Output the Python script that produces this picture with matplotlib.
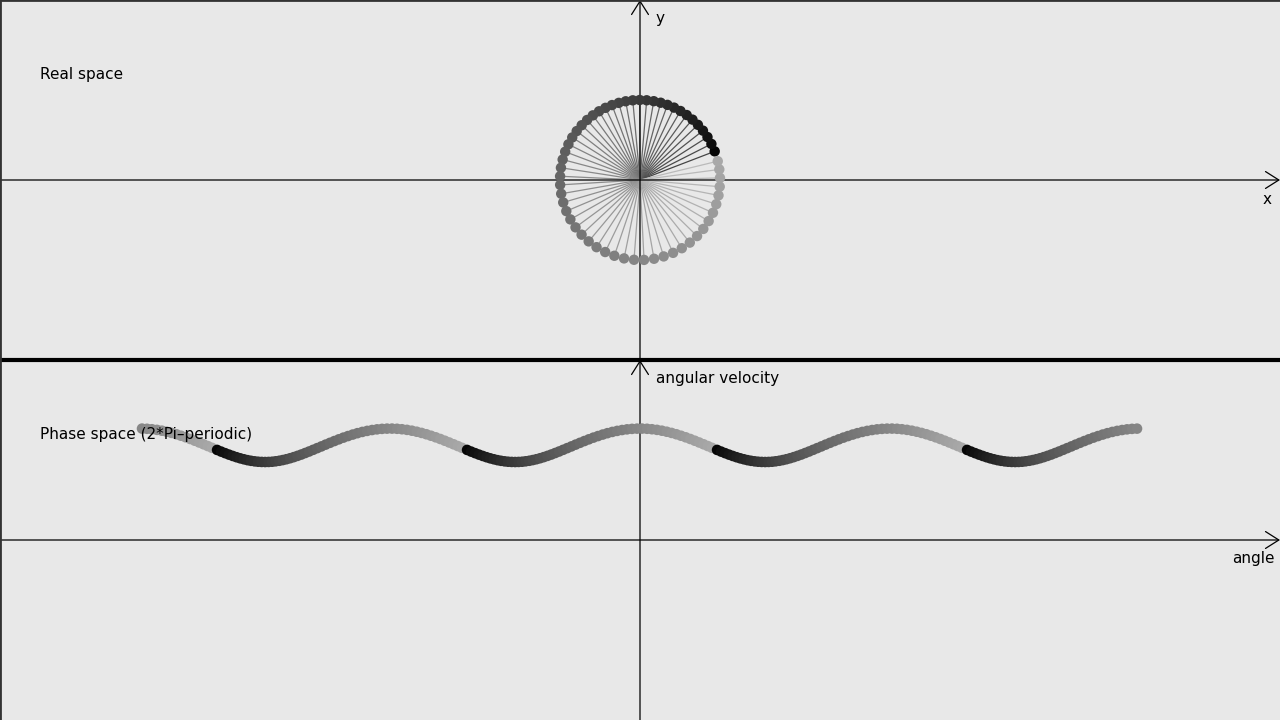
import numpy as np
import matplotlib.pyplot as plt
from matplotlib.colors import LinearSegmentedColormap, PowerNorm

# one full turn of the pendulum, sampled at equal time steps
# angle measured from the downward vertical, in degrees
angle_deg = [111.0, 116.8, 122.5, 128.1, 133.6, 139.0, 144.3, 149.6, 154.8, 159.9,
             165.0, 170.1, 175.2, 180.2, 185.2, 190.3, 195.4, 200.5, 205.6, 210.8,
             216.1, 221.4, 226.8, 232.3, 237.9, 243.5, 249.3, 255.2, 261.2, 267.3,
             273.5, 279.9, 286.3, 292.9, 299.5, 306.3, 313.1, 320.1, 327.1, 334.2,
             341.3, 348.5, 355.7, 362.9, 370.1, 377.2, 384.4, 391.5, 398.5, 405.5,
             412.3, 419.1, 425.8, 432.4, 438.9, 445.2, 451.5, 457.6, 463.6]
ang_vel = [2.264, 2.222, 2.183, 2.146, 2.112, 2.081, 2.053, 2.029, 2.007, 1.990,
           1.977, 1.967, 1.962, 1.960, 1.962, 1.967, 1.978, 1.991, 2.009, 2.030,
           2.055, 2.083, 2.114, 2.148, 2.186, 2.224, 2.266, 2.309, 2.352, 2.397,
           2.442, 2.487, 2.530, 2.573, 2.612, 2.650, 2.685, 2.716, 2.742, 2.764,
           2.781, 2.793, 2.799, 2.800, 2.795, 2.784, 2.768, 2.747, 2.721, 2.691,
           2.658, 2.620, 2.581, 2.539, 2.495, 2.451, 2.406, 2.361, 2.317]

bg = '#e8e8e8'

theta = np.radians(angle_deg)
omega = np.array(ang_vel)
px = np.sin(theta)
py = -np.cos(theta)

idx = np.arange(len(theta))
cmap = LinearSegmentedColormap.from_list('trail', ['#050505', '#a8a8a8'])
norm = PowerNorm(gamma=0.75, vmin=0, vmax=len(theta) - 1)
colors = cmap(norm(idx))
bg_rgb = np.array([232, 232, 232, 255]) / 255.0
spoke_colors = colors * 0.72 + bg_rgb * 0.28

fig = plt.figure(figsize=(12.8, 7.2), dpi=100, facecolor=bg)
ax_top = fig.add_axes([0, 0.5, 1, 0.5])
ax_bot = fig.add_axes([0, 0, 1, 0.5])
for ax in (ax_top, ax_bot):
    ax.set_facecolor(bg)
    ax.axis('off')

arrow = dict(arrowstyle='->,head_length=0.6,head_width=0.38', lw=0.9,
             color='black', mutation_scale=16, shrinkA=0, shrinkB=0)

# real space
ax_top.set_xlim(-8, 8)
ax_top.set_ylim(-2.25, 2.25)
ax_top.annotate('', xy=(8, 0), xytext=(-8, 0), arrowprops=arrow, annotation_clip=False)
ax_top.annotate('', xy=(0, 2.25), xytext=(0, -2.25), arrowprops=arrow, annotation_clip=False)
for i in idx:
    ax_top.plot([0, px[i]], [0, py[i]], color=spoke_colors[i], lw=0.9, zorder=2)
ax_top.scatter(px, py, c=colors, s=56, edgecolors='none', zorder=3)

# phase space, repeated every 2*pi
scale = 250 / (2 * np.pi)
xr = 640 / scale
yr = 180 / scale
ax_bot.set_xlim(-xr, xr)
ax_bot.set_ylim(-yr, yr)
ax_bot.annotate('', xy=(xr, 0), xytext=(-xr, 0), arrowprops=arrow, annotation_clip=False)
ax_bot.annotate('', xy=(0, yr), xytext=(0, -yr), arrowprops=arrow, annotation_clip=False)
for k in range(-3, 2):
    th = theta + 2 * np.pi * k
    m = (th >= -4 * np.pi) & (th <= 4 * np.pi)
    ax_bot.scatter(th[m], omega[m], c=colors[m], s=58, edgecolors='none', zorder=3)

# separator and frame
fig.add_artist(plt.Line2D([0, 1], [0.5, 0.5], transform=fig.transFigure, color='black', lw=3))
fig.add_artist(plt.Line2D([0, 0], [0, 1], transform=fig.transFigure, color='#333333', lw=2))
fig.add_artist(plt.Line2D([0, 1], [1, 1], transform=fig.transFigure, color='#333333', lw=2))

W, H = 1280, 720
def label(x, y, s, ha='left'):
    fig.text(x / W, 1 - y / H, s, ha=ha, va='center', fontsize=11, color='black')

label(40, 74, 'Real space')
label(40, 434, 'Phase space (2*Pi\u2013periodic)')
label(655, 19, 'y')
label(1263, 199, 'x')
label(656, 378, 'angular velocity')
label(1232, 558, 'angle')

fig.savefig('out.png', dpi=100, facecolor=bg)
